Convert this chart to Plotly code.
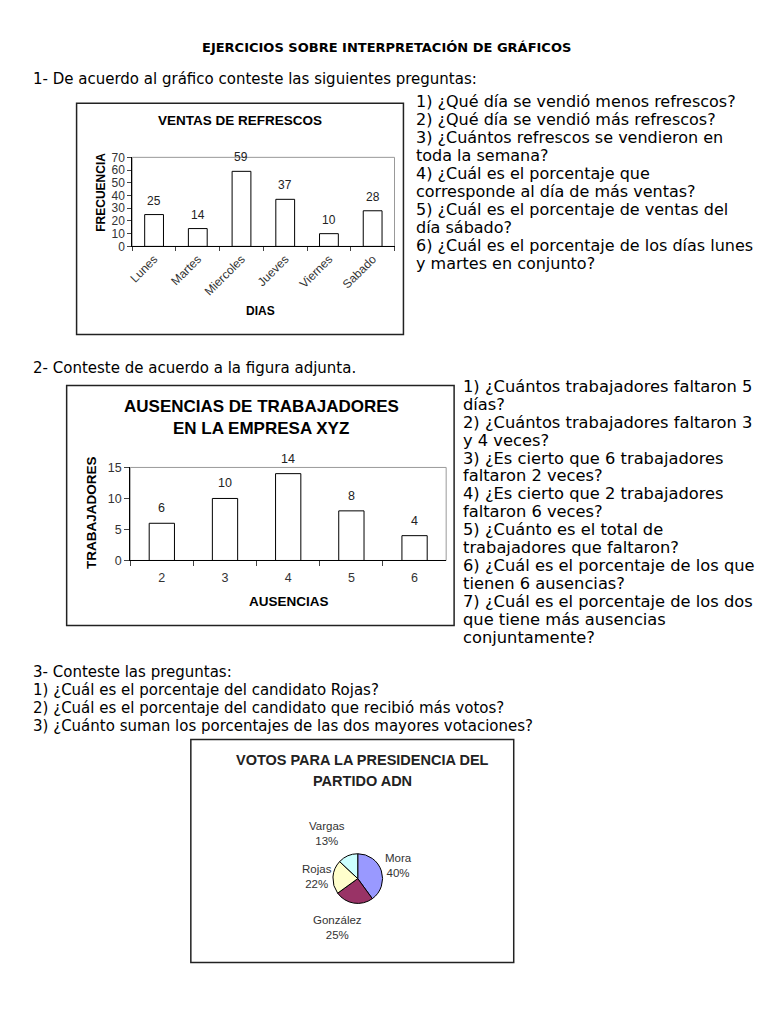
import plotly.graph_objects as go

W, H = 768, 1024
# observed page placement: x shifted by ~9px, y mapped as 14.7 + 0.986*y
def px(x): return (x - 9) / W
def py(y): return 1 - ((y - 14.7) / 0.986) / H

# ---------------- data ----------------
dias = ["Lunes", "Martes", "Miercoles", "Jueves", "Viernes", "Sabado"]
ventas = [25, 14, 59, 37, 10, 28]

ausencias = ["2", "3", "4", "5", "6"]
trabajadores = [6, 10, 14, 8, 4]

candidatos = ["Mora", "González", "Rojas", "Vargas"]
votos = [40, 25, 22, 13]
pie_colors = ["#9999FF", "#993366", "#FFFFCC", "#CCFFFF"]

titulo = "EJERCICIOS SOBRE INTERPRETACIÓN DE GRÁFICOS"
sec1 = "1- De acuerdo al gráfico conteste las siguientes preguntas:"
preg1 = ["1) ¿Qué día se vendió menos refrescos?",
         "2) ¿Qué día se vendió más refrescos?",
         "3) ¿Cuántos refrescos se vendieron en",
         "toda la semana?",
         "4) ¿Cuál es el porcentaje que",
         "corresponde al día de más ventas?",
         "5) ¿Cuál es el porcentaje de ventas del",
         "día sábado?",
         "6) ¿Cuál es el porcentaje de los días lunes",
         "y martes en conjunto?"]
sec2 = "2- Conteste de acuerdo a la figura adjunta."
preg2 = ["1) ¿Cuántos trabajadores faltaron 5",
         "días?",
         "2) ¿Cuántos trabajadores faltaron 3",
         "y 4 veces?",
         "3) ¿Es cierto que 6 trabajadores",
         "faltaron 2 veces?",
         "4) ¿Es cierto que 2 trabajadores",
         "faltaron 6 veces?",
         "5) ¿Cuánto es el total de",
         "trabajadores que faltaron?",
         "6) ¿Cuál es el porcentaje de los que",
         "tienen 6 ausencias?",
         "7) ¿Cuál es el porcentaje de los dos",
         "que tiene más ausencias",
         "conjuntamente?"]
preg3 = ["3- Conteste las preguntas:",
         "1) ¿Cuál es el porcentaje del candidato Rojas?",
         "2) ¿Cuál es el porcentaje del candidato que recibió más votos?",
         "3) ¿Cuánto suman los porcentajes de las dos mayores votaciones?"]

BODY = "DejaVu Sans"
ARIAL = "Liberation Sans, Arial"

fig = go.Figure()

fig.add_trace(go.Bar(x=dias, y=ventas, xaxis="x", yaxis="y", width=0.43,
                     marker=dict(color="white", line=dict(color="black", width=1)),
                     showlegend=False, hoverinfo="skip"))
fig.add_trace(go.Bar(x=ausencias, y=trabajadores, xaxis="x2", yaxis="y2", width=0.4,
                     marker=dict(color="white", line=dict(color="black", width=1)),
                     showlegend=False, hoverinfo="skip"))
fig.add_trace(go.Pie(labels=candidatos, values=votos, sort=False,
                     direction="clockwise", rotation=0,
                     marker=dict(colors=pie_colors, line=dict(color="black", width=1)),
                     textinfo="none", showlegend=False, hoverinfo="skip",
                     domain=dict(x=[px(331), px(381)], y=[py(904), py(852)])))

annotations = []
def txt(x, y, s, size=15, family=BODY, bold=False, anchor="left", color="black", angle=0):
    annotations.append(dict(x=px(x), y=py(y), xref="paper", yref="paper",
                            text=(f"<b>{s}</b>" if bold else s), showarrow=False,
                            xanchor=anchor, yanchor="middle", textangle=angle,
                            borderpad=0,
                            font=dict(family=family, size=size, color=color)))

# page text
txt(385, 47, titulo, size=13, bold=True, anchor="center")
txt(28, 79, sec1, size=15)
for i, s in enumerate(preg1):
    txt(414, 101 + i * 18, s, size=16)
txt(28, 368, sec2, size=15)
for i, s in enumerate(preg2):
    txt(461, 386 + i * 17.9, s, size=16.3)
for i, s in enumerate(preg3):
    txt(28, 671 + i * 18, s, size=15)

# chart 1 texts
txt(237, 120, "VENTAS DE REFRESCOS", size=13.5, family=ARIAL, bold=True, anchor="center")
txt(258, 311, "DIAS", size=12, family=ARIAL, bold=True, anchor="center")
txt(98, 192, "FRECUENCIA", size=12, family=ARIAL, bold=True, anchor="center", angle=-90)
for i, v in enumerate(ventas):
    annotations.append(dict(x=i, y=v, xref="x", yref="y", text=str(v), showarrow=False,
                            yshift=14, font=dict(family=ARIAL, size=12, color="#222")))

# chart 2 texts
txt(259, 406, "AUSENCIAS DE TRABAJADORES", size=17, family=ARIAL, bold=True, anchor="center")
txt(259, 428, "EN LA EMPRESA XYZ", size=17, family=ARIAL, bold=True, anchor="center")
txt(287, 601, "AUSENCIAS", size=13.5, family=ARIAL, bold=True, anchor="center")
txt(88, 512, "TRABAJADORES", size=13.5, family=ARIAL, bold=True, anchor="center", angle=-90)
for i, v in enumerate(trabajadores):
    annotations.append(dict(x=i, y=v, xref="x2", yref="y2", text=str(v), showarrow=False,
                            yshift=15, font=dict(family=ARIAL, size=12.5, color="#222")))

# chart 3 texts
txt(361, 759, "VOTOS PARA LA PRESIDENCIA DEL", size=14.5, family=ARIAL, bold=True, anchor="center", color="#222")
txt(361, 780, "PARTIDO ADN", size=14.5, family=ARIAL, bold=True, anchor="center", color="#222")
pie_lbl_pos = {"Mora": (397, 865), "González": (336, 927), "Rojas": (315, 876), "Vargas": (325, 833)}
for c, v in zip(candidatos, votos):
    x, y = pie_lbl_pos[c]
    annotations.append(dict(x=px(x), y=py(y), xref="paper", yref="paper",
                            text=f"{c}<br>{v}%", showarrow=False, xanchor="center", yanchor="middle",
                            font=dict(family=ARIAL, size=11.5, color="#333")))

shapes = []
def box(x0, y0, x1, y1, color="#222", width=1.5):
    shapes.append(dict(type="rect", xref="paper", yref="paper",
                       x0=px(x0), x1=px(x1), y0=py(y1), y1=py(y0),
                       line=dict(color=color, width=width), fillcolor="rgba(0,0,0,0)", layer="below"))
box(73, 103, 402, 334)
box(63, 385, 453, 625)
box(188, 739, 513, 962)
for xr, yr in (("x domain", "y domain"), ("x2 domain", "y2 domain")):
    shapes.append(dict(type="rect", xref=xr, yref=yr, x0=0, x1=1, y0=0, y1=1,
                       line=dict(color="#999", width=1), layer="below"))

fig.update_layout(
    width=W, height=H, margin=dict(l=0, r=0, t=0, b=0),
    paper_bgcolor="white", plot_bgcolor="white",
    xaxis=dict(domain=[px(129), px(393)], anchor="y", type="category", range=[-0.5, 5.5],
               showline=True, linecolor="black", linewidth=1, ticks="outside", ticklen=4,
               tickson="boundaries", tickangle=-45, tickfont=dict(family=ARIAL, size=12, color="#333"),
               showgrid=False),
    yaxis=dict(domain=[py(246), py(157)], anchor="x", range=[0, 70], dtick=10,
               showline=True, linecolor="black", linewidth=1, ticks="outside", ticklen=4,
               tickfont=dict(family=ARIAL, size=12, color="#333"), showgrid=False, zeroline=False),
    xaxis2=dict(domain=[px(127), px(445)], anchor="y2", type="category", range=[-0.5, 4.5],
                showline=True, linecolor="black", linewidth=1, ticks="outside", ticklen=5,
                ticklabelstandoff=6,
                tickson="boundaries", tickfont=dict(family=ARIAL, size=12.5, color="#333"),
                showgrid=False),
    yaxis2=dict(domain=[py(560), py(467)], anchor="x2", range=[0, 15], dtick=5,
                showline=True, linecolor="black", linewidth=1, ticks="outside", ticklen=5,
                tickfont=dict(family=ARIAL, size=12.5, color="#333"), showgrid=False, zeroline=False),
    annotations=annotations, shapes=shapes,
)

fig.write_html("out.html")
